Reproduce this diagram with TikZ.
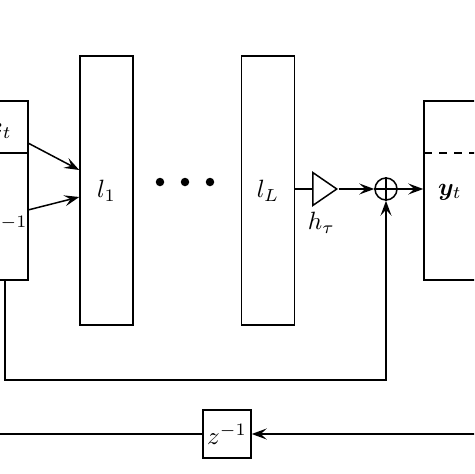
\documentclass[tikz,border=0pt]{standalone}
\usepackage{amsmath}
\usepackage{bm}
\usetikzlibrary{shapes.geometric,arrows.meta,calc,positioning}

\tikzset{
  block/.style={draw, line width=.6pt, inner sep=0pt},
  arr/.style={line width=.6pt, -{Stealth[length=6pt,width=4.4pt,inset=2.4pt]}},
  wire/.style={line width=.6pt},
}

\begin{document}
\begin{tikzpicture}[x=0.4pt,y=-0.4pt]
    \useasboundingbox (0,0) rectangle (474,474);
    \clip (0,0) rectangle (474,474);
    % input stack (cut off on the left)
    \node[block, minimum width=25.6pt, minimum height=71.6pt] (xbox) at (-4,190.5) {};
    \draw[wire] (-36,153) -- (28,153);
    \node (xt) at (-1,131) {$\bm{x}_t$};
    \node (yprev) at (3,221) {$\bm{y}_{t-1}$};
    % layers
    \node[block, minimum width=21.2pt, minimum height=107.6pt] (l1) at (106.5,190.5) {$l_1$};
    \node[block, minimum width=21.2pt, minimum height=107.6pt] (lL) at (268,190.5) {$l_L$};
    \foreach \x in {160,185,210}
      \fill (\x,182) circle (1.7pt);
    % output gain and sum
    \node[block, isosceles triangle, isosceles triangle stretches, shape border rotate=0,
          minimum width=13.2pt, minimum height=9.6pt, anchor=west] (amp) at (312,189) {};
    \node[below=1pt of amp] (hlab) {$h_\tau$};
    \node[block, circle, minimum size=8.8pt] (sum) at (386,189) {};
    \draw[wire] (sum.north) -- (sum.south) (sum.west) -- (sum.east);
    % output stack (cut off on the right)
    \node[block, minimum width=26.4pt, minimum height=71.6pt] (ybox) at (457,190.5) {};
    \draw[wire, dashed] (424,153) -- (490,153);
    \node (yt) at (450,192) {$\bm{y}_t$};
    % delay
    \node[block, minimum size=19.2pt] (delay) at (227,434) {$z^{-1}$};
    % connectors
    \coordinate (xout) at (28,143);
    \coordinate (yout) at (28,210);
    \draw[arr] (xout) -- ($(l1.west)+(0,-20.5)$);
    \draw[arr] (yout) -- ($(l1.west)+(0,6.5)$);
    \draw[wire] (lL.east |- amp.west) -- (amp.west);
    \draw[arr] (amp.east) -- (sum.west);
    \draw[arr] (sum.east) -- (ybox.west |- sum.east);
    \coordinate (fb) at (5,280);
    \coordinate (fbcorner) at (5,380);
    \draw[arr] (fb) -- (fbcorner) -| (sum.south);
    \coordinate (din) at (500,434);
    \coordinate (dout) at (-20,434);
    \draw[arr] (din) -- (delay.east);
    \draw[wire] (delay.west) -- (dout);
\end{tikzpicture}
\end{document}
